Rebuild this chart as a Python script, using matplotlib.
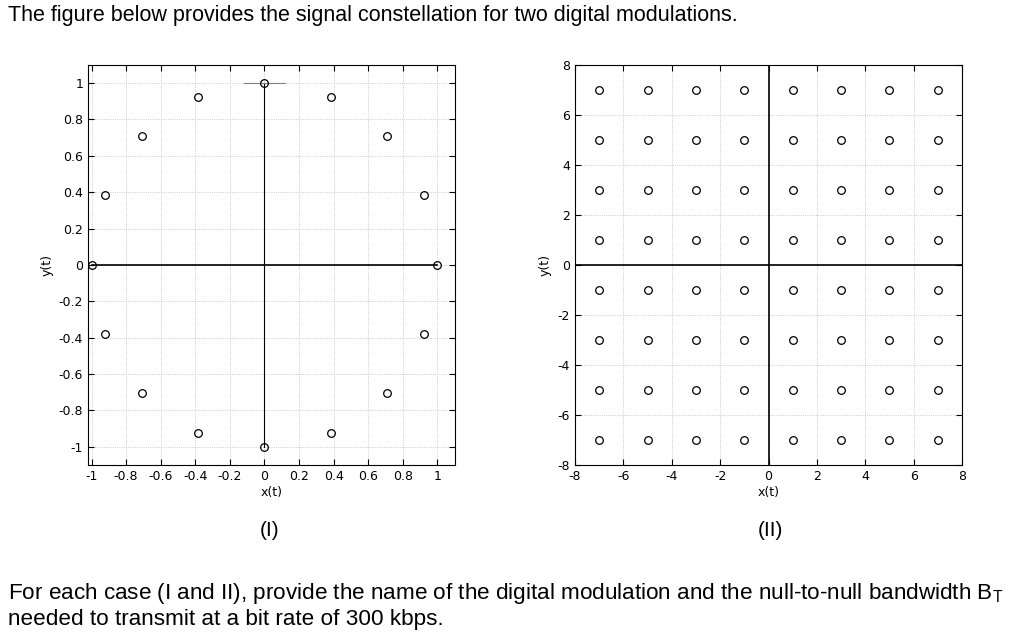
import matplotlib.pyplot as plt
import numpy as np

plt.rcParams['font.family'] = ['Liberation Sans Narrow', 'DejaVu Sans']
plt.rcParams['axes.unicode_minus'] = False
plt.rcParams['mathtext.default'] = 'regular'

# 16-PSK constellation
psk_angles_deg = [0, 22.5, 45, 67.5, 90, 112.5, 135, 157.5, 180, 202.5, 225, 247.5, 270, 292.5, 315, 337.5]
# 64-QAM levels
qam_levels = [-7, -5, -3, -1, 1, 3, 5, 7]

left_ticks = [-1, -0.8, -0.6, -0.4, -0.2, 0, 0.2, 0.4, 0.6, 0.8, 1]
left_labels = ['-1', '-0.8', '-0.6', '-0.4', '-0.2', '0', '0.2', '0.4', '0.6', '0.8', '1']
right_ticks = [-8, -6, -4, -2, 0, 2, 4, 6, 8]

body = ['Liberation Sans', 'DejaVu Sans']

fig = plt.figure(figsize=(10.24, 6.43), dpi=100)

# texto de arriba
fig.text(8/1024, 1-15/643, 'The figure below provides the signal constellation for two digital modulations.',
         fontsize=15.5, family=body, va='center')

ax1 = fig.add_axes([0.086, 0.277, 0.358, 0.622])
ang = np.deg2rad(psk_angles_deg)
ax1.plot([-1, 1], [0, 0], color='black', lw=1.2)
ax1.plot([0, 0], [-1, 1], color='black', lw=0.8)
ax1.plot([-0.12, 0.12], [1, 1], color='gray', lw=0.8)
ax1.plot(np.cos(ang), np.sin(ang), 'o', mfc='none', mec='black', ms=5.5, mew=0.9)
ax1.set_xlim(-1.02, 1.1)
ax1.set_ylim(-1.1, 1.1)
ax1.set_xticks(left_ticks)
ax1.set_xticklabels(left_labels)
ax1.set_yticks(left_ticks)
ax1.set_yticklabels(left_labels)
ax1.set_xlabel('x(t)', fontsize=9, labelpad=2)
ax1.set_ylabel('y(t)', fontsize=9)

ax2 = fig.add_axes([0.5615, 0.277, 0.378, 0.622])
ax2.axhline(0, color='black', lw=1.2)
ax2.axvline(0, color='black', lw=1.2)
gx, gy = np.meshgrid(qam_levels, qam_levels)
ax2.plot(gx.ravel(), gy.ravel(), 'o', mfc='none', mec='black', ms=5.5, mew=0.9)
ax2.set_xlim(-8, 8)
ax2.set_ylim(-8, 8)
ax2.set_xticks(right_ticks)
ax2.set_yticks(right_ticks)
ax2.set_xlabel('x(t)', fontsize=9, labelpad=2)
ax2.set_ylabel('y(t)', fontsize=9)

for ax in (ax1, ax2):
    ax.grid(True, ls=':', color='#bbbbbb', lw=0.6)
    ax.tick_params(direction='in', labelsize=9, top=True, right=True, length=4)
    for s in ax.spines.values():
        s.set_linewidth(0.8)

fig.text(270/1024, 1-530/643, '(I)', fontsize=15, ha='center', va='center', family=body)
fig.text(770/1024, 1-530/643, '(II)', fontsize=15, ha='center', va='center', family=body)

fig.text(8/1024, 1-593/643, 'For each case (I and II), provide the name of the digital modulation and the null-to-null bandwidth B$_T$',
         fontsize=16.2, va='center', family=body)
fig.text(8/1024, 1-620/643, 'needed to transmit at a bit rate of 300 kbps.',
         fontsize=16.2, va='center', family=body)

fig.savefig('out.png', dpi=100)
